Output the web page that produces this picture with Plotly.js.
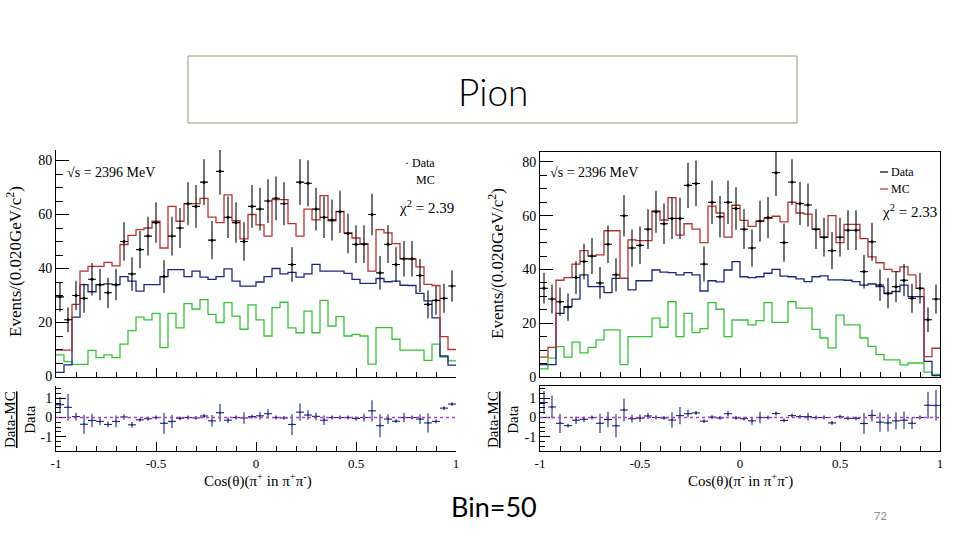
<!DOCTYPE html>
<html><head><meta charset="utf-8">
<script src="https://cdn.plot.ly/plotly-3.0.1.min.js"></script>
<style>html,body{margin:0;padding:0;background:#fff;}#chart{width:960px;height:540px;}</style>
</head><body><div id="chart"></div>
<script>
// ---------- binning ----------
const nBins = 50, xLow = -1, xHigh = 1;
const tickVals = [-1, -0.5, 0, 0.5, 1];
const tickText = ['-1', '-0.5', '0', '0.5', '1'];

// ---------- left panel: pi+ ----------
const leftData = [29.5,21,30,29,36,34,31,34,50,38,47,52,57,37,52,55,64,63,72,50.5,76,59,57,50,63,62,65,66,64,41.5,72,71.6,62,59,58,61,53,49,49,60,38.4,49,41.5,43.6,43.6,37.4,26.7,28.2,29,33.5];
const leftDataErr = [5.4,4.6,5.5,5.4,6.0,5.8,5.6,5.8,7.1,6.2,6.9,7.2,7.5,6.1,7.2,7.4,8.0,7.9,8.5,7.1,8.7,7.7,7.5,7.1,7.9,7.9,8.1,8.1,8.0,6.4,8.5,8.5,7.9,7.7,7.6,7.8,7.3,7.0,7.0,7.7,6.2,7.0,6.4,6.6,6.6,6.1,5.2,5.3,5.4,5.8];
const leftMC = [9.8,9.8,26.7,39,40.8,40.8,42.3,41,48.9,52.3,54.4,55,57.5,47.6,63,57.5,64,64,66,59,57,67.3,57.7,51,60,56.2,52,65.5,65.5,56.6,52,62,58,67,57.7,61.2,53.2,51.3,49.2,39,54.4,53.2,49.2,43.6,43.5,40.6,34.1,33.7,14.8,10];
const leftBlue = [1.5,4.3,22,34,31.4,34,34.3,34,37,35.3,31.6,34,34,37,39.6,39.6,37,39,36.8,36,37,39.9,35.3,33.5,33.5,35,37,40,38,38.6,36.8,38,41.5,39,39,39,38.2,36,34.5,34.5,36.3,35.1,35.3,33.8,33.7,30.8,28,21.7,7.6,4.2];
const leftGreen = [8,5.5,4.5,4.5,9.7,7,8,7,12,17,22,21,23.4,10.7,23.4,18,27,25,28.5,23,20,27.4,22.4,17.5,26.5,21,15,25.5,27.5,18,16.2,24.2,16.2,28.2,18.7,22.2,15,15.6,15,4.6,18.1,18.1,13.8,9.8,9.8,9.8,6,12,7.2,5.8];
const leftRatio = [0.67,0.53,0.05,-0.35,-0.15,-0.2,-0.36,-0.2,0.03,-0.38,-0.12,-0.06,0,-0.3,-0.2,-0.04,0,-0.02,0.08,-0.17,0.25,-0.14,0,-0.02,0.05,0.09,0.2,0,-0.02,-0.36,0.28,0.13,0.06,-0.14,0,0,0,-0.05,0,0.35,-0.42,-0.08,-0.19,0,0,-0.08,-0.28,-0.2,0.49,0.7];
const leftRatioErr = [0.4,0.7,0.2,0.5,0.35,0.2,0.15,0.3,0.15,0.15,0.1,0.1,0.1,0.55,0.35,0.1,0.1,0.1,0.1,0.3,0.45,0.15,0.1,0.3,0.1,0.2,0.25,0.1,0.1,0.55,0.45,0.25,0.2,0.25,0.1,0.1,0.1,0.1,0.2,0.55,0.6,0.25,0.1,0.25,0.1,0.25,0.5,0.1,0.1,0.1];

// ---------- right panel: pi- ----------
const rightData = [33,29,28,26,37,43,45,35,49.4,38,60,48,49,55,61.5,57,59,59,71.3,72,42,65,59.6,65,62.7,55,48,58,59.3,76,50,72.5,64.5,64,55,52,47,52,54.6,54.6,39.2,50.3,34.2,31.2,33.6,36,29.3,33,21.3,29];
const rightDataErr = [5.7,5.4,5.3,5.1,6.1,6.6,6.7,5.9,7.0,6.2,7.7,6.9,7.0,7.4,7.8,7.5,7.7,7.7,8.4,8.5,6.5,8.1,7.7,8.1,7.9,7.4,6.9,7.6,7.7,8.7,7.1,8.5,8.0,8.0,7.4,7.2,6.9,7.2,7.4,7.4,6.3,7.1,5.8,5.6,5.8,6.0,5.4,5.7,4.6,5.4];
const rightMC = [7.4,11,36,37,42,47,45,45.4,54.4,54.4,36.7,51,50.7,50.7,61.8,58.4,66.7,52.8,57,55,50,63.6,61,52,63.9,58.3,56,58,59,59.8,57.7,65,61,60.6,55,52,60,50,56.8,56.8,51.5,44.7,42.5,40,39.2,41,38,33,7.6,10.7];
const rightBlue = [4.6,4.6,23.7,26.2,29,38,33.6,33.6,31.4,36.7,36.7,32.4,35.8,35.8,39.8,39,38.8,38,38.8,38,32,35.8,35.4,39.8,42.9,37.3,37,37.3,38.6,40,37.5,37.3,36.5,35.5,37.3,37.6,36.1,36.1,36,35.5,34.2,34.6,33.6,31,31.8,34.2,29.9,29.9,5.8,0.5];
const rightGreen = [3,7,11.3,7.4,13,9,11,13.8,17.5,17.5,4.6,15,15,15,21.9,18.5,28,15,23.7,16.5,18,27.7,25.2,15,21.2,21.2,19.4,21,27.7,20.3,20.3,28,25.6,25.6,17.7,14.5,10.8,23,19.4,19.4,14.5,11.4,8.3,6.4,6.4,4.5,5.2,5.2,1.8,1];
const rightRatio = [0.78,0.55,-0.3,-0.42,-0.14,-0.09,0,-0.3,-0.1,-0.43,0.39,-0.06,-0.03,0.08,0,-0.02,-0.13,0.1,0.2,0.24,-0.19,0.02,-0.02,0.2,-0.02,-0.06,-0.17,0,0,0.21,-0.15,0.1,0.05,0.05,0,0,-0.28,0.04,-0.04,-0.04,-0.31,0.11,-0.24,-0.28,-0.17,-0.14,-0.3,0,0.64,0.63];
const rightRatioErr = [0.6,0.6,0.5,0.1,0.2,0.15,0.1,0.5,0.4,0.6,0.6,0.2,0.2,0.15,0.1,0.1,0.4,0.45,0.2,0.1,0.1,0.1,0.1,0.15,0.1,0.1,0.2,0.3,0.1,0.1,0.1,0.1,0.1,0.2,0.1,0.1,0.1,0.1,0.1,0.1,0.55,0.3,0.5,0.45,0.45,0.45,0.3,0.1,0.7,0.8];

// ---------- colours ----------
const cRed = '#b8322c', cBlue = '#1c2680', cGreen = '#33c433', cRatio = '#1c2680', cZero = '#b040c8';
const serif = 'Liberation Serif, Times New Roman, serif';
const slideFont = 'Lato, Open Sans, sans-serif';

// ---------- helpers (bin geometry from the axis definition) ----------
const binW = (xHigh - xLow) / nBins;
const centers = Array.from({length: nBins}, (_, i) => xLow + binW * (i + 0.5));
const edges = Array.from({length: nBins + 1}, (_, i) => xLow + binW * i);
const stepVals = v => v.concat([v[v.length - 1]]);
const px = x => x / 960, py = y => 1 - y / 540;

function histTrace(vals, color, xa, ya) {
  return {type: 'scatter', mode: 'lines', x: edges, y: stepVals(vals), xaxis: xa, yaxis: ya,
    line: {shape: 'hv', color: color, width: 1.3}, hoverinfo: 'skip', showlegend: false};
}
function dataTrace(vals, errs, xa, ya) {
  return {type: 'scatter', mode: 'markers', x: centers, y: vals, xaxis: xa, yaxis: ya,
    marker: {color: '#000', size: 3},
    error_y: {type: 'data', array: errs, color: '#000', thickness: 1.1, width: 0},
    error_x: {type: 'constant', value: binW / 2, color: '#000', thickness: 1.1, width: 0},
    showlegend: false};
}
function ratioTrace(vals, errs, xa, ya) {
  return {type: 'scatter', mode: 'markers', x: centers, y: vals, xaxis: xa, yaxis: ya,
    marker: {color: cRatio, size: 2},
    error_y: {type: 'data', array: errs, color: cRatio, thickness: 1.1, width: 0},
    error_x: {type: 'constant', value: binW / 2, color: cRatio, thickness: 1.1, width: 0},
    showlegend: false};
}

const traces = [
  histTrace(leftGreen, cGreen, 'x', 'y'),
  histTrace(leftBlue, cBlue, 'x', 'y'),
  histTrace(leftMC, cRed, 'x', 'y'),
  dataTrace(leftData, leftDataErr, 'x', 'y'),
  ratioTrace(leftRatio, leftRatioErr, 'x2', 'y2'),
  histTrace(rightGreen, cGreen, 'x3', 'y3'),
  histTrace(rightBlue, cBlue, 'x3', 'y3'),
  histTrace(rightMC, cRed, 'x3', 'y3'),
  dataTrace(rightData, rightDataErr, 'x3', 'y3'),
  ratioTrace(rightRatio, rightRatioErr, 'x4', 'y4')
];

const tickFont = {family: serif, size: 14, color: '#000'};
const xTickFont = {family: serif, size: 13, color: '#000'};
function mainX(dom, anchor, mirror) {
  return {domain: dom, anchor: anchor, range: [xLow, xHigh], showticklabels: false,
    ticks: 'inside', tickvals: tickVals, ticklen: 9, tickcolor: '#000',
    minor: {ticks: 'inside', dtick: 0.1, ticklen: 5, tickcolor: '#000'},
    showline: true, linecolor: '#000', linewidth: 1, mirror: mirror, showgrid: false, zeroline: false};
}
function mainY(dom, anchor, top, mirror) {
  return {domain: dom, anchor: anchor, range: [0, top], tickvals: [0, 20, 40, 60, 80],
    ticks: 'inside', ticklen: 13, tickcolor: '#000', tickfont: tickFont,
    minor: {ticks: 'inside', dtick: 5, ticklen: 7, tickcolor: '#000'},
    showline: true, linecolor: '#000', linewidth: 1, mirror: mirror, showgrid: false, zeroline: false};
}
function ratioX(dom, anchor, mirror) {
  return {domain: dom, anchor: anchor, range: [xLow, xHigh], tickvals: tickVals, ticktext: tickText,
    ticks: 'inside', ticklen: 9, tickcolor: '#000', tickfont: xTickFont,
    minor: {ticks: 'inside', dtick: 0.1, ticklen: 5, tickcolor: '#000'},
    showline: true, linecolor: '#000', linewidth: 1, mirror: mirror, showgrid: false, zeroline: false};
}
function ratioY(dom, anchor, mirror) {
  return {domain: dom, anchor: anchor, range: [-1.74, 1.64], tickvals: [-1, 0, 1], ticktext: ['-1', '0', '1'],
    ticks: 'inside', ticklen: 10, tickcolor: '#000', tickfont: tickFont,
    minor: {ticks: 'inside', dtick: 0.25, ticklen: 5, tickcolor: '#000'},
    showline: true, linecolor: '#000', linewidth: 1, mirror: mirror, showgrid: false, zeroline: false};
}

const leftDom = [px(56), px(456)], rightDom = [px(540), px(940)];
const ratioDom = [py(451), py(386)];

const ann = (x, y, text, size, opts) => Object.assign({xref: 'paper', yref: 'paper', x: px(x), y: py(y),
  text: text, showarrow: false, xanchor: 'center', yanchor: 'middle',
  font: {family: serif, size: size, color: '#000'}}, opts || {});

const annotations = [
  ann(493, 91, 'Pion', 37, {font: {family: slideFont, size: 37, color: '#000', weight: 300}}),
  ann(494, 506, 'Bin=50', 27, {font: {family: slideFont, size: 27, color: '#000'}}),
  ann(880, 515, '72', 11, {font: {family: slideFont, size: 11, color: '#8c8c8c'}}),
  // y titles
  ann(14, 262, 'Events/(0.020GeV/c<sup>2</sup>)', 17, {textangle: -90}),
  ann(496, 264, 'Events/(0.020GeV/c<sup>2</sup>)', 17, {textangle: -90}),
  ann(20, 420, '<u>Data-MC</u><br>Data', 15, {textangle: -90}),
  ann(503, 420, '<u>Data-MC</u><br>Data', 15, {textangle: -90}),
  // x titles
  ann(258, 480, 'Cos(θ)(π<sup>+</sup> in π<sup>+</sup>π<sup>-</sup>)', 15),
  ann(740, 480, 'Cos(θ)(π<sup>-</sup> in π<sup>+</sup>π<sup>-</sup>)', 15),
  // in-plot labels
  ann(65, 172, '√s = 2396 MeV', 14, {xanchor: 'left'}),
  ann(548, 172, '√s = 2396 MeV', 14, {xanchor: 'left'}),
  ann(403, 163, '· Data', 12, {xanchor: 'left'}),
  ann(414, 180, 'MC', 12, {xanchor: 'left'}),
  ann(397, 207, 'χ<sup>2</sup> = 2.39', 15, {xanchor: 'left'}),
  ann(889, 172, 'Data', 12, {xanchor: 'left'}),
  ann(889, 189, 'MC', 12, {xanchor: 'left'}),
  ann(880, 211, 'χ<sup>2</sup> = 2.33', 15, {xanchor: 'left'})
];

const shapes = [
  {type: 'rect', xref: 'paper', yref: 'paper', x0: px(188), x1: px(797), y0: py(123), y1: py(56),
    line: {color: '#8b9c74', width: 1}},
  {type: 'line', xref: 'x2', yref: 'y2', x0: xLow, x1: xHigh, y0: 0, y1: 0,
    line: {color: cZero, width: 1.5, dash: 'dot'}},
  {type: 'line', xref: 'x4', yref: 'y4', x0: xLow, x1: xHigh, y0: 0, y1: 0,
    line: {color: cZero, width: 1.5, dash: 'dot'}},
  {type: 'line', xref: 'paper', yref: 'paper', x0: px(880), x1: px(888), y0: py(172), y1: py(172),
    line: {color: '#000', width: 1.2}},
  {type: 'line', xref: 'paper', yref: 'paper', x0: px(880), x1: px(888), y0: py(189), y1: py(189),
    line: {color: cRed, width: 1.2}}
];

const layout = {
  width: 960, height: 540, margin: {l: 0, r: 0, t: 0, b: 0},
  paper_bgcolor: '#fff', plot_bgcolor: 'rgba(0,0,0,0)', showlegend: false,
  xaxis: mainX(leftDom, 'y', false),
  yaxis: mainY([py(376.5), py(150)], 'x', 83.9, false),
  xaxis2: ratioX(leftDom, 'y2', false),
  yaxis2: ratioY(ratioDom, 'x2', false),
  xaxis3: mainX(rightDom, 'y3', true),
  yaxis3: mainY([py(377), py(152)], 'x3', 83.7, true),
  xaxis4: ratioX(rightDom, 'y4', true),
  yaxis4: ratioY(ratioDom, 'x4', true),
  annotations: annotations, shapes: shapes
};

Plotly.newPlot('chart', traces, layout, {staticPlot: true, displayModeBar: false});
</script></body></html>
